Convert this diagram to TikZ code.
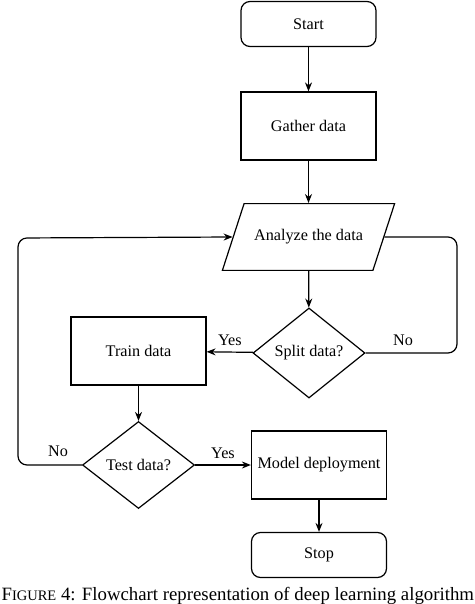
\documentclass[tikz,border=0pt]{standalone}
\usepackage{fontspec}
\setmainfont{Liberation Serif}
\usetikzlibrary{shapes.geometric,arrows.meta}
\begin{document}
\begin{tikzpicture}[x=1pt,y=-1pt,line width=1.2pt,font=\fontsize{16.2}{19}\selectfont,
    >={Stealth[length=9pt,width=7pt]},
    term/.style={draw,rounded corners=9pt,minimum width=135pt,minimum height=45pt},
    proc/.style={draw,minimum width=135pt,minimum height=68pt},
    io/.style={draw,trapezium,trapezium left angle=72,trapezium right angle=108,inner xsep=10pt,inner ysep=26pt},
    decide/.style={draw,diamond,inner sep=0pt,minimum width=112pt,minimum height=90pt}]
        \useasboundingbox (0,0) rectangle (474,604);
        \node[term] (start) at (308.5, 24) {Start};
        \node[proc] (gather) at (308.5, 126) {Gather data};
        \node[io] (analyze) at (308.5, 237) {Analyze the data};
        \node[decide] (split) at (309, 353) {Split data?};
        \node[proc] (train) at (138.5, 351) {Train data};
        \node[decide,minimum height=87pt] (test) at (138.5, 465) {Test data?};
        \node[proc] (model) at (319, 465) {Model deployment};
        \node[term] (stop) at (319, 555) {Stop};
        \coordinate (loopR) at (457, 353);
        \coordinate (loopL) at (18, 238);
        \draw[->] (start) -- (gather);
        \draw[->] (gather) -- (analyze);
        \draw[->] (analyze) -- (split);
        \draw[->] (split) -- node[above,yshift=2pt] {Yes} (train);
        \draw[rounded corners=9pt] (split.east) -- (loopR) |- (analyze.east);
        \node at (403, 340) {No};
        \draw[->] (train) -- (test);
        \draw[->] (test) -- node[above,yshift=2pt] {Yes} (model);
        \draw[->,rounded corners=9pt] (test.west) -| (loopL) -- (analyze.west);
        \node at (58, 451) {No};
        \draw[->] (model) -- (stop);
        \node[anchor=base west,inner sep=0pt,font=\fontsize{18.8}{22}\selectfont] (caption) at (1, 600) {F{\fontsize{14.5}{17}\selectfont IGURE} 4: Flowchart representation of deep learning algorithm};
\end{tikzpicture}
\end{document}
